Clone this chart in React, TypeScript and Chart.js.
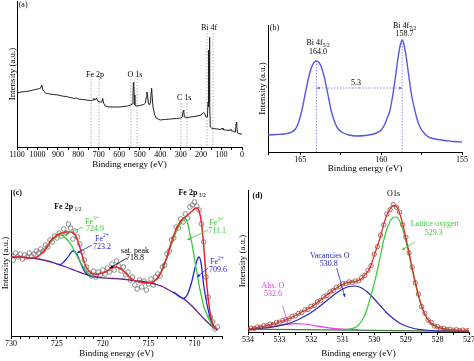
import React, { useEffect, useRef } from 'react';
import { Chart, registerables } from 'chart.js';

Chart.register(...registerables);

const FONT = '"Liberation Serif", "Times New Roman", serif';

// ---------------- (a) survey spectrum ----------------
const surveyEnergy = [1100, 1080, 1060, 1040, 1020, 1000, 990, 984, 979, 975, 970, 960, 950, 940, 920, 900, 880, 860, 850, 840, 830, 820, 810, 800, 780, 760, 740, 728, 724, 720, 714, 711, 706, 695, 685, 681, 677, 668, 650, 600, 560, 545, 537, 533, 531, 529, 527, 524, 518, 500, 480, 472, 468, 465, 462, 458, 452, 447, 444, 442, 439, 435, 428, 420, 400, 380, 350, 320, 300, 292, 288, 285, 282, 270, 250, 220, 200, 192, 187, 182, 176, 169, 166, 164, 162.5, 160.5, 159, 157.5, 155, 150, 140, 120, 102, 97, 93, 80, 62, 58, 54, 40, 32, 29, 27, 25, 22, 15, 5, 0];
const surveyIntensity = [54, 55, 55.5, 56, 57, 58, 58.5, 59, 62, 58, 56, 54, 53.5, 53, 52.5, 52, 51, 50.5, 50, 49.5, 49, 48.5, 49, 48, 47.5, 47, 46.5, 47, 48.5, 47, 48, 49, 46, 45, 45, 48.5, 44, 41, 40, 40, 41, 42, 43, 50, 64, 65, 52, 42, 41, 41.5, 42.5, 44, 50, 55, 52, 44, 42, 45, 55, 59, 50, 40, 33, 29, 27, 27.5, 28, 28.5, 29, 30, 36, 37, 30, 29.5, 30, 31, 32, 34, 34.5, 33, 30, 30, 45, 97, 40, 55, 110, 45, 20, 19, 18.5, 18, 17.5, 19, 17.5, 17, 16.5, 17.5, 16.5, 15.5, 15, 23, 25, 22, 14, 13.5, 13, 13];
const surveyMarkerEnergy = [738, 699, 543, 513, 298, 269, 171, 142];
const surveyMarkerTop = [68, 68, 68, 68, 44, 44, 114, 114];
const surveyTickLabels = [1100, 1000, 900, 800, 700, 600, 500, 400, 300, 200, 100, 0];

// ---------------- (b) Bi 4f ----------------
const biEnergy = [167, 166.5, 166, 165.6, 165.3, 165.1, 164.9, 164.75, 164.6, 164.45, 164.3, 164.15, 164.0, 163.85, 163.7, 163.55, 163.4, 163.25, 163.1, 162.9, 162.7, 162.4, 162.0, 161.5, 161.0, 160.6, 160.3, 160.0, 159.8, 159.6, 159.45, 159.3, 159.1, 158.95, 158.8, 158.7, 158.6, 158.45, 158.3, 158.1, 157.95, 157.8, 157.6, 157.4, 157.2, 157.0, 156.5, 156.0, 155.5, 155.0];
const biIntensity = [17, 17.5, 18, 19.5, 23, 30, 42, 54, 66, 77, 85, 89.5, 91, 89.5, 85, 77, 66, 54, 42, 31, 24, 19.5, 17, 16, 16.5, 17.5, 19, 22, 27, 35, 42, 55, 77, 95, 108, 112, 108, 95, 77, 55, 44, 34, 25, 20, 16.5, 14.5, 12.5, 11.5, 10.5, 10];
const biPeakEnergy = [164.0, 158.7];
const biPeakHeight = [91, 112];
const biTickLabels = [165, 160, 155];

// ---------------- (c) Fe 2p ----------------
const feEnergy = [730, 729.75, 729.5, 729.25, 729, 728.75, 728.5, 728.25, 728, 727.75, 727.5, 727.25, 727, 726.75, 726.5, 726.25, 726, 725.75, 725.5, 725.25, 725, 724.75, 724.5, 724.25, 724, 723.75, 723.5, 723.25, 723, 722.75, 722.5, 722.25, 722, 721.75, 721.5, 721.25, 721, 720.75, 720.5, 720.25, 720, 719.75, 719.5, 719.25, 719, 718.75, 718.5, 718.25, 718, 717.75, 717.5, 717.25, 717, 716.75, 716.5, 716.25, 716, 715.75, 715.5, 715.25, 715, 714.75, 714.5, 714.25, 714, 713.75, 713.5, 713.25, 713, 712.75, 712.5, 712.25, 712, 711.75, 711.5, 711.25, 711, 710.75, 710.5, 710.25, 710, 709.75, 709.5, 709.25, 709, 708.75, 708.5, 708.25, 708, 707.75, 707.5];
const feRaw = [82, 77, 84, 80, 83, 78, 82, 80, 84, 81, 83, 86, 84, 88, 86, 92, 90, 97, 95, 101, 99, 104, 101, 108, 104, 113, 109, 98, 106, 100, 93, 85, 77, 70, 64, 61, 66, 60, 65, 62, 67, 63, 69, 65, 73, 67, 76, 71, 66, 70, 62, 65, 57, 60, 52, 48, 57, 50, 56, 47, 53, 58, 52, 60, 63, 61, 70, 72, 83, 86, 97, 99, 110, 109, 118, 115, 123, 119, 130, 132, 135, 131, 127, 113, 95, 60, 40, 20, 15, 8, 10];
const feFit = [80, 80, 80, 80, 80, 79.5, 79.5, 79, 79, 79, 79, 80, 81, 83, 85, 88, 91, 95, 98, 100, 102, 103, 104, 104.5, 105, 105, 105, 104, 102, 97, 90, 82, 74, 69, 66, 64, 63, 63, 63, 63.5, 64, 65, 66, 67.5, 69, 70, 70, 69, 68, 66, 64, 61.5, 59, 57.5, 56, 55.5, 55, 54.5, 54, 54, 54, 54.5, 55, 57, 59, 63, 68, 74, 80, 88, 95, 102, 108, 112, 116, 118.5, 120, 122, 124, 126, 128, 129, 126, 115, 92, 62, 38, 22, 13, 9, 7];
const feBackground = [[730, 80], [729, 79.8], [728, 79.2], [727, 78], [726, 76], [725, 73], [724, 70], [723, 66.5], [722, 63], [721, 60.5], [720, 59.2], [719, 58.5], [718, 58], [717, 57], [716, 56], [715, 54.5], [714.5, 53.5], [714, 52], [713.5, 50.5], [713, 48], [712.5, 45.5], [712, 43], [711.5, 40], [711, 37], [710.5, 33], [710, 28.5], [709.5, 23.5], [709, 18.5], [708.5, 14], [708, 10], [707.5, 7]];
const fe3Plus32 = [[715, 54.5], [714.5, 55.5], [714, 58.5], [713.5, 67], [713, 79], [712.5, 93], [712, 105], [711.5, 113.5], [711.25, 117], [711, 118], [710.75, 114], [710.5, 103], [710.25, 92], [710, 78], [709.75, 65], [709.5, 52], [709.25, 41], [709, 31], [708.75, 25], [708.5, 19.5], [708.25, 15], [708, 11], [707.75, 8.5], [707.5, 7]];
const fe2Plus32 = [[712.25, 45], [712, 43], [711.75, 41], [711.5, 39.5], [711.25, 38.5], [711, 39.5], [710.75, 43], [710.5, 49], [710.25, 57], [710, 67], [709.75, 76], [709.5, 80], [709.25, 72], [709, 52], [708.75, 38], [708.5, 27], [708.25, 18], [708, 12], [707.75, 8.5], [707.5, 7]];
const fe3Plus12 = [[726.5, 85], [726, 90.5], [725.5, 97], [725, 101], [724.75, 102], [724.5, 102], [724.25, 100.5], [724, 98.5], [723.75, 96], [723.5, 93], [723.25, 89], [723, 84.5], [722.75, 80], [722.5, 76], [722.25, 72], [722, 68.5], [721.75, 65.5], [721.5, 63], [721.25, 61.5], [721, 60.5]];
const fe2Plus12 = [[725, 73], [724.75, 72.5], [724.5, 73], [724.25, 75], [724, 77.5], [723.75, 80.5], [723.5, 84], [723.25, 86], [723, 85], [722.75, 81.5], [722.5, 76], [722.25, 70.5], [722, 66], [721.75, 63], [721.5, 61.5], [721.25, 60.5], [721, 60]];
const feTickLabels = [730, 725, 720, 715, 710];

// ---------------- (d) O 1s ----------------
const oEnergy = [534, 533.9, 533.8, 533.7, 533.6, 533.5, 533.4, 533.3, 533.2, 533.1, 533, 532.9, 532.8, 532.7, 532.6, 532.5, 532.4, 532.3, 532.2, 532.1, 532, 531.9, 531.8, 531.7, 531.6, 531.5, 531.4, 531.3, 531.2, 531.1, 531, 530.9, 530.8, 530.7, 530.6, 530.5, 530.4, 530.3, 530.2, 530.1, 530, 529.9, 529.8, 529.7, 529.6, 529.5, 529.4, 529.3, 529.2, 529.1, 529, 528.9, 528.8, 528.7, 528.6, 528.5, 528.4, 528.3, 528.2, 528.1, 528, 527.9, 527.8, 527.7, 527.6, 527.5, 527.4, 527.3, 527.2, 527.1, 527];
const oRaw = [2.5, 3.8, 3.6, 5, 4.8, 6.3, 6.2, 7.8, 7.7, 9.6, 9.8, 11.6, 12.3, 13.1, 15.6, 16.2, 18.6, 19.5, 22.2, 22.6, 25.7, 26.6, 30.1, 31.5, 35.2, 36.6, 40.2, 41.6, 44.7, 45.6, 48.2, 48.6, 50.1, 49.6, 51, 51.1, 54.2, 56.6, 61.8, 66.4, 77.8, 85.3, 96.8, 107.2, 117.9, 122.3, 127.4, 124.8, 119.9, 107.3, 94.8, 79.2, 64.9, 49.3, 37.8, 25.4, 18.7, 12, 9.6, 6, 5.4, 3.6, 3.7, 2.4, 2.8, 1.8, 2.3, 1.4, 1.9, 1.0, 1.5];
const oFit = [3, 3.5, 4, 4.5, 5.1, 5.8, 6.5, 7.2, 8, 9, 10, 11, 12, 13.5, 15, 16.5, 18, 20, 21.5, 23, 25, 27, 29.5, 32, 34.5, 37, 39.5, 42, 44, 46, 47.5, 49, 49.5, 50, 50.5, 51.5, 53.5, 57, 61, 67, 77, 86, 96, 108, 117, 123, 126.5, 125.5, 119, 108, 94, 80, 64, 50, 37, 26, 18, 12.5, 9, 6.5, 5, 4, 3.3, 2.8, 2.4, 2.1, 1.9, 1.7, 1.5, 1.3, 1.2];
const oVacancy = [[534, 2.5], [533.8, 3], [533.6, 3.6], [533.4, 4.3], [533.2, 5.2], [533, 6.3], [532.8, 7.8], [532.6, 9.8], [532.4, 12.5], [532.2, 15.7], [532, 19.5], [531.8, 24], [531.6, 29], [531.4, 34], [531.2, 39], [531, 43], [530.8, 45.5], [530.6, 46], [530.4, 44], [530.2, 39.5], [530, 33], [529.8, 26], [529.6, 19], [529.4, 13.5], [529.2, 9], [529, 6], [528.8, 4], [528.6, 2.7], [528.4, 2], [528.2, 1.5], [528, 1.2], [527.5, 1], [527, 0.8]];
const oLattice = [[531, 2.4], [530.8, 2.8], [530.6, 4.5], [530.5, 7], [530.4, 11], [530.3, 17], [530.2, 26], [530.1, 37], [530, 49], [529.9, 62], [529.8, 77], [529.7, 92], [529.6, 103], [529.5, 110.5], [529.4, 114.5], [529.3, 115], [529.2, 111], [529.1, 103], [529, 91], [528.9, 77], [528.8, 62], [528.7, 48], [528.6, 35.5], [528.5, 25], [528.4, 17.5], [528.3, 12], [528.2, 8.5], [528.1, 6], [528, 4.5], [527.8, 2.8], [527.5, 1.8], [527, 1.2]];
const oAbsorbed = [[534, 2.8], [533.75, 3.4], [533.5, 4.2], [533.25, 5.3], [533, 6.5], [532.75, 7.6], [532.5, 8.3], [532.25, 8], [532, 7], [531.75, 5.6], [531.5, 4.3], [531.25, 3.4], [531, 2.9], [530.75, 2.6], [530.5, 2.4]];
const oBackground = [[534, 2.8], [527, 0.6]];
const oTickLabels = [534, 533, 532, 531, 530, 529, 528, 527];

// ---------------- layout ----------------
type Geom = { cx: number; cy: number; cw: number; ch: number; L: number; T: number; R: number; B: number; yTitleX: number; xTitleY: number };
const GEOM: Record<string, Geom> = {
  a: { cx: 0, cy: 0, cw: 250, ch: 172, L: 17, T: 1, R: 242, B: 147, yTitleX: 13, xTitleY: 165 },
  b: { cx: 245, cy: 0, cw: 229, ch: 175, L: 268, T: 25, R: 462, B: 152, yTitleX: 263, xTitleY: 169 },
  c: { cx: 0, cy: 178, cw: 236, ch: 183, L: 11, T: 190, R: 222, B: 336, yTitleX: 5.5, xTitleY: 354 },
  d: { cx: 236, cy: 178, cw: 238, ch: 183, L: 248, T: 190, R: 469, B: 332, yTitleX: 243, xTitleY: 354 },
};

type Seg = { t: string; s?: number; b?: boolean; dy?: number };
type Note =
  | { k: 'text'; x: number; y: number; c: string; segs: Seg[] }
  | { k: 'line'; x1: number; y1: number; x2: number; y2: number; c: string; dash?: number[]; heads?: number };

const SUP = 5.5;
const txt = (x: number, y: number, c: string, t: string, s = 8, b = false): Note => ({ k: 'text', x, y, c, segs: [{ t, s, b }] });

const notesA: Note[] = [
  txt(1070, 142, '#000', '(a)', 8),
  txt(719, 72, '#000', 'Fe 2p', 8),
  txt(523, 72, '#000', 'O 1s', 8),
  txt(283, 49, '#000', 'C 1s', 8),
  txt(161, 119, '#000', 'Bi 4f', 8),
];

const notesB: Note[] = [
  txt(166.6, 124, '#000', '(b)', 8),
  { k: 'text', x: 163.9, y: 109, c: '#000', segs: [{ t: 'Bi 4f', s: 8 }, { t: '5/2', s: SUP, dy: 2.5 }] },
  txt(163.9, 100, '#000', '164.0', 8),
  { k: 'text', x: 158.55, y: 126, c: '#000', segs: [{ t: 'Bi 4f', s: 8 }, { t: '7/2', s: SUP, dy: 2.5 }] },
  txt(158.55, 118, '#000', '158.7', 8),
  txt(161.56, 69, '#000', '5.3', 8),
  { k: 'line', x1: 161.35, y1: 64, x2: 164.0, y2: 64, c: '#6a6ae8', dash: [1.5, 1.5], heads: 1 },
  { k: 'line', x1: 161.35, y1: 64, x2: 158.7, y2: 64, c: '#6a6ae8', dash: [1.5, 1.5], heads: 1 },
];

const FE3 = '#35cc35';
const FE2 = '#2424dc';
const notesC: Note[] = [
  txt(729.3, 144, '#000', '(c)', 8, true),
  { k: 'text', x: 723.8, y: 130, c: '#000', segs: [{ t: 'Fe 2p', s: 8, b: true }, { t: ' 1/2', s: SUP, dy: 2.5 }] },
  { k: 'text', x: 710.26, y: 144, c: '#000', segs: [{ t: 'Fe 2p', s: 8, b: true }, { t: ' 3/2', s: SUP, dy: 2.5 }] },
  { k: 'text', x: 721.17, y: 115, c: FE3, segs: [{ t: 'Fe', s: 8 }, { t: '3+', s: SUP, dy: -3 }] },
  txt(720.84, 108, FE3, '724.9', 8),
  { k: 'line', x1: 722.15, y1: 110, x2: 724.11, y2: 102, c: FE3, heads: 1 },
  { k: 'text', x: 720.08, y: 98, c: FE2, segs: [{ t: 'Fe', s: 8 }, { t: '2+', s: SUP, dy: -3 }] },
  txt(720.08, 90, FE2, '723.2', 8),
  { k: 'line', x1: 721.17, y1: 92, x2: 722.8, y2: 84, c: FE2, heads: 1 },
  txt(716.48, 86, '#000', 'sat. peak', 8),
  txt(716.48, 79, '#000', '718.8', 8),
  { k: 'line', x1: 717.35, y1: 79, x2: 719.2, y2: 69, c: '#000', heads: 1 },
  { k: 'text', x: 707.64, y: 114, c: FE3, segs: [{ t: 'Fe', s: 8 }, { t: '3+', s: SUP, dy: -3 }] },
  txt(707.54, 106, FE3, '711.1', 8),
  { k: 'line', x1: 708.52, y1: 107, x2: 710.8, y2: 97, c: FE3, heads: 1 },
  { k: 'text', x: 707.54, y: 75, c: FE2, segs: [{ t: 'Fe', s: 8 }, { t: '2+', s: SUP, dy: -3 }] },
  txt(707.43, 67, FE2, '709.6', 8),
  { k: 'line', x1: 708.52, y1: 69, x2: 709.7, y2: 60, c: FE2, heads: 1 },
];

const O_GREEN = '#35cc35';
const O_BLUE = '#2626c0';
const O_PINK = '#e040e0';
const notesD: Note[] = [
  txt(533.7, 136, '#000', '(d)', 8, true),
  txt(529.39, 138, '#000', 'O1s', 8),
  txt(528.09, 108, O_GREEN, 'Lattice oxygen', 8),
  txt(528.12, 99, O_GREEN, '529.3', 8),
  { k: 'line', x1: 528.72, y1: 90, x2: 529.13, y2: 82, c: O_GREEN, heads: 1 },
  txt(531.41, 76, O_BLUE, 'Vacancies O', 8),
  txt(531.44, 68, O_BLUE, '530.8', 8),
  { k: 'line', x1: 531.19, y1: 64, x2: 530.93, y2: 35, c: O_BLUE, heads: 1 },
  txt(533.21, 46, O_PINK, 'Abs. O', 8),
  txt(533.21, 38, O_PINK, '532.6', 8),
  { k: 'line', x1: 532.9, y1: 26, x2: 532.74, y2: 9, c: O_PINK, heads: 0 },
];

// ---------------- helpers ----------------
function notesPlugin(items: Note[]) {
  return {
    id: 'notes',
    afterDraw(chart: any) {
      const ctx: CanvasRenderingContext2D = chart.ctx;
      const xs = chart.scales.x;
      const ys = chart.scales.y;
      ctx.save();
      for (const n of items) {
        if (n.k === 'text') {
          let w = 0;
          for (const s of n.segs) {
            ctx.font = `${s.b ? 'bold ' : ''}${s.s || 8}px ${FONT}`;
            w += ctx.measureText(s.t).width;
          }
          let px = xs.getPixelForValue(n.x) - w / 2;
          const py = ys.getPixelForValue(n.y);
          ctx.fillStyle = n.c;
          ctx.textAlign = 'left';
          ctx.textBaseline = 'middle';
          for (const s of n.segs) {
            ctx.font = `${s.b ? 'bold ' : ''}${s.s || 8}px ${FONT}`;
            ctx.fillText(s.t, px, py + (s.dy || 0));
            px += ctx.measureText(s.t).width;
          }
        } else {
          const x1 = xs.getPixelForValue(n.x1);
          const y1 = ys.getPixelForValue(n.y1);
          const x2 = xs.getPixelForValue(n.x2);
          const y2 = ys.getPixelForValue(n.y2);
          ctx.strokeStyle = n.c;
          ctx.fillStyle = n.c;
          ctx.lineWidth = 0.8;
          ctx.setLineDash(n.dash || []);
          ctx.beginPath();
          ctx.moveTo(x1, y1);
          ctx.lineTo(x2, y2);
          ctx.stroke();
          ctx.setLineDash([]);
          if (n.heads) {
            const a = Math.atan2(y2 - y1, x2 - x1);
            const size = 3.5;
            ctx.beginPath();
            ctx.moveTo(x2, y2);
            ctx.lineTo(x2 - size * Math.cos(a - 0.45), y2 - size * Math.sin(a - 0.45));
            ctx.lineTo(x2 - size * Math.cos(a + 0.45), y2 - size * Math.sin(a + 0.45));
            ctx.closePath();
            ctx.fill();
          }
        }
      }
      ctx.restore();
    },
  };
}

const pts = (xs: number[], ys: number[]) => xs.map((x, i) => ({ x, y: ys[i] }));
const pairPts = (p: number[][]) => p.map(([x, y]) => ({ x, y }));

const curve = (data: any[], color: string, width = 1, smooth = true) => ({
  data,
  borderColor: color,
  borderWidth: width,
  pointRadius: 0,
  fill: false,
  tension: 0,
  cubicInterpolationMode: smooth ? 'monotone' : 'default',
});

const markers = (data: any[], color: string, r: number, bw: number) => ({
  data,
  showLine: false,
  pointRadius: r,
  pointBorderWidth: bw,
  pointBorderColor: color,
  pointBackgroundColor: 'rgba(255,255,255,0)',
  borderColor: color,
});

type Spec = { xMin: number; xMax: number; step: number; labels: number[]; yMin: number; yMax: number; datasets: any[]; notes: Note[] };

function makeConfig(g: Geom, spec: Spec): any {
  const yPad = Math.max(0, g.yTitleX - g.cx - 5.4);
  const xPad = Math.max(0, g.cy + g.ch - g.xTitleY - 5.4);
  return {
    type: 'line',
    data: { datasets: spec.datasets },
    options: {
      responsive: false,
      maintainAspectRatio: false,
      animation: false,
      devicePixelRatio: 1,
      events: [],
      layout: { autoPadding: false, padding: { left: 0, top: g.T - g.cy, right: g.cx + g.cw - g.R, bottom: 0 } },
      plugins: { legend: { display: false }, tooltip: { enabled: false }, title: { display: false } },
      scales: {
        x: {
          type: 'linear',
          position: 'bottom',
          reverse: true,
          min: spec.xMin,
          max: spec.xMax,
          grid: { display: true, drawOnChartArea: false, drawTicks: true, tickLength: 3, tickColor: '#000', color: '#000' },
          border: { display: true, color: '#000', width: 1 },
          ticks: {
            stepSize: spec.step,
            maxTicksLimit: 1000,
            autoSkip: false,
            maxRotation: 0,
            minRotation: 0,
            padding: 0,
            color: '#000',
            font: { family: FONT, size: 8 },
            callback: (v: number) => {
              const hit = spec.labels.find((l) => Math.abs(l - v) < 1e-6);
              return hit === undefined ? '' : String(hit);
            },
          },
          title: { display: true, text: 'Binding energy (eV)', color: '#000', font: { family: FONT, size: 9 }, padding: { top: 0, bottom: xPad } },
          afterFit: (s: any) => {
            s.height = g.cy + g.ch - g.B;
            s.paddingLeft = 0;
            s.paddingRight = 0;
          },
        },
        y: {
          type: 'linear',
          position: 'left',
          min: spec.yMin,
          max: spec.yMax,
          grid: { display: false },
          border: { display: true, color: '#000', width: 1 },
          ticks: { display: false },
          title: { display: true, text: 'Intensity (a.u.)', color: '#000', font: { family: FONT, size: 9 }, padding: { top: yPad, bottom: 0 } },
          afterFit: (s: any) => {
            s.width = g.L - g.cx;
            s.paddingTop = 0;
            s.paddingBottom = 0;
          },
        },
      },
    },
    plugins: [notesPlugin(spec.notes)],
  };
}

// ---------------- panel specs ----------------
function specA(): Spec {
  const lines = surveyMarkerEnergy.map((e, i) => ({
    ...curve([{ x: e, y: surveyMarkerTop[i] }, { x: e, y: 0 }], '#a0a0a0', 0.8, false),
    borderDash: [1.5, 1.5],
  }));
  return {
    xMin: 0, xMax: 1100, step: 50, labels: surveyTickLabels, yMin: 0, yMax: 146,
    datasets: [curve(pts(surveyEnergy, surveyIntensity), '#222', 1, false), ...lines],
    notes: notesA,
  };
}

function specB(): Spec {
  const lines = biPeakEnergy.map((e, i) => ({
    ...curve([{ x: e, y: biPeakHeight[i] }, { x: e, y: 0 }], '#7a7aec', 0.8, false),
    borderDash: [1.5, 1.5],
  }));
  return {
    xMin: 155, xMax: 167, step: 2.5, labels: biTickLabels, yMin: 0, yMax: 127,
    datasets: [curve(pts(biEnergy, biIntensity), '#5656e6', 1.4, true), ...lines],
    notes: notesB,
  };
}

function specC(): Spec {
  return {
    xMin: 707, xMax: 730, step: 1, labels: feTickLabels, yMin: 1, yMax: 147,
    datasets: [
      curve(pts(feEnergy, feFit), '#e8262a', 1.5),
      curve(pairPts(fe3Plus32), FE3, 1.3),
      curve(pairPts(fe3Plus12), FE3, 1.3),
      curve(pairPts(fe2Plus32), FE2, 1.3),
      curve(pairPts(fe2Plus12), FE2, 1.3),
      curve(pairPts(feBackground), '#6a1f80', 1.3),
      markers(pts(feEnergy, feRaw), '#6e6e6e', 2.3, 0.8),
    ],
    notes: notesC,
  };
}

function specD(): Spec {
  return {
    xMin: 527, xMax: 534, step: 0.5, labels: oTickLabels, yMin: 0, yMax: 142,
    datasets: [
      markers(pts(oEnergy, oRaw), '#9b4a3c', 2.2, 0.8),
      curve(pts(oEnergy, oFit), '#e03030', 1.3),
      curve(pairPts(oLattice), O_GREEN, 1.2),
      curve(pairPts(oVacancy), O_BLUE, 1.2),
      curve(pairPts(oAbsorbed), O_PINK, 1.2),
      curve(pairPts(oBackground), '#3f7a3f', 1.2, false),
    ],
    notes: notesD,
  };
}

function Panel({ g, build }: { g: Geom; build: () => Spec }) {
  const ref = useRef<HTMLCanvasElement>(null);
  useEffect(() => {
    const chart = new Chart(ref.current as HTMLCanvasElement, makeConfig(g, build()));
    return () => chart.destroy();
  }, []);
  return (
    <canvas
      ref={ref}
      width={g.cw}
      height={g.ch}
      style={{ position: 'absolute', left: g.cx, top: g.cy, width: g.cw, height: g.ch }}
    />
  );
}

export default function App() {
  return (
    <div style={{ position: 'absolute', left: 0, top: 0, width: 474, height: 361, background: '#fff', overflow: 'hidden' }}>
      <Panel g={GEOM.a} build={specA} />
      <Panel g={GEOM.b} build={specB} />
      <Panel g={GEOM.c} build={specC} />
      <Panel g={GEOM.d} build={specD} />
    </div>
  );
}
